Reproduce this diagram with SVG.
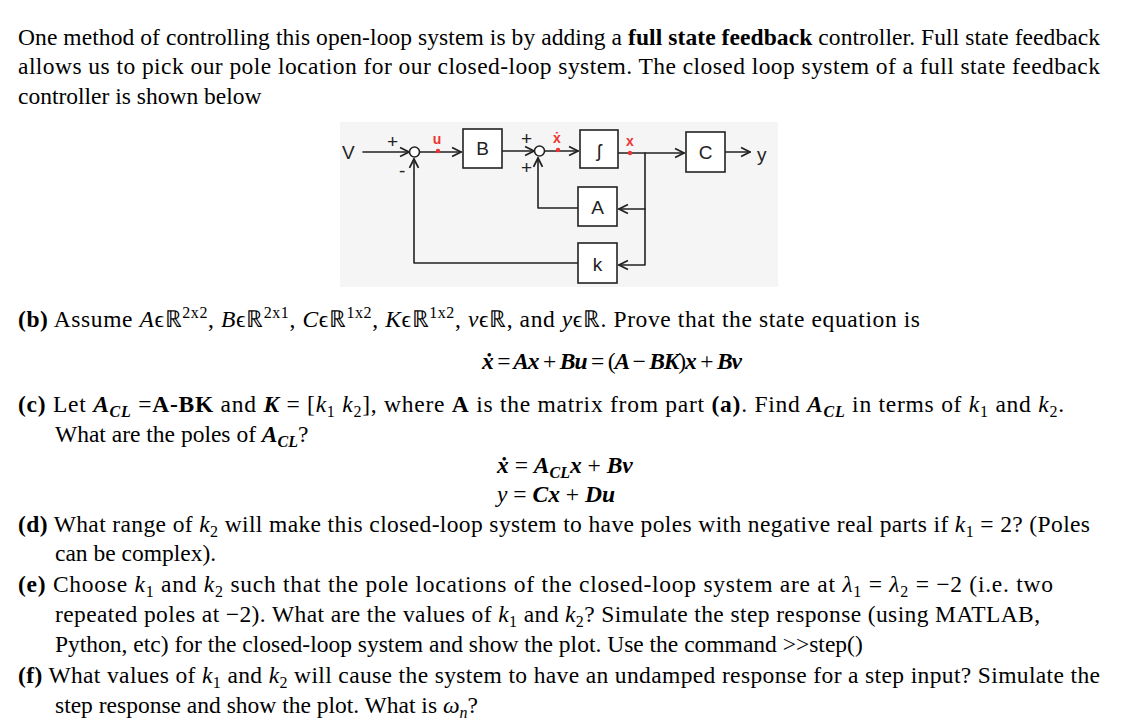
<svg xmlns="http://www.w3.org/2000/svg" width="1121" height="727" viewBox="0 0 1121 727">
<defs>
<style>
.t{font-family:"Liberation Serif","Times New Roman",serif;font-size:23.5px;fill:#000}
.i{font-style:italic}
.b{font-weight:bold}
.s{font-size:16px}
.ln{fill:none;stroke:#222;stroke-width:1.6;stroke-linecap:round;stroke-linejoin:round}
.bx{fill:#fff;stroke:#222;stroke-width:1.6}
.h{font-family:"Liberation Sans",Arial,sans-serif;font-size:19px;fill:#222}
.r{font-family:"Liberation Sans",Arial,sans-serif;font-size:14px;fill:#e33;font-weight:bold}
.dot{fill:#e33}
</style>
<marker id="a" viewBox="0 0 10 10" refX="9" refY="5" markerWidth="7" markerHeight="7" orient="auto"><path d="M1 1L9 5L1 9" fill="none" stroke="#222" stroke-width="1.6"/></marker>
</defs>
<rect width="1121" height="727" fill="#fff"/>
<g id="text">
<text class="t" x="18" y="45" textLength="1082" lengthAdjust="spacing">One method of controlling this open-loop system is by adding a <tspan class="b">full state feedback</tspan> controller. Full state feedback</text>
<text class="t" x="18" y="74" textLength="1082" lengthAdjust="spacing">allows us to pick our pole location for our closed-loop system. The closed loop system of a full state feedback</text>
<text class="t" x="18" y="104">controller is shown below</text>
<text class="t" x="18" y="327" textLength="902" lengthAdjust="spacing"><tspan class="b">(b)</tspan> Assume <tspan class="i">A</tspan>ϵℝ<tspan class="s" dy="-9">2x2</tspan><tspan dy="9">, </tspan><tspan class="i">B</tspan>ϵℝ<tspan class="s" dy="-9">2x1</tspan><tspan dy="9">, </tspan><tspan class="i">C</tspan>ϵℝ<tspan class="s" dy="-9">1x2</tspan><tspan dy="9">, </tspan><tspan class="i">K</tspan>ϵℝ<tspan class="s" dy="-9">1x2</tspan><tspan dy="9">, </tspan><tspan class="i">v</tspan>ϵℝ, and <tspan class="i">y</tspan>ϵℝ. Prove that the state equation is</text>
<text class="t b i" x="482" y="369" textLength="260" lengthAdjust="spacing">ẋ <tspan font-style="normal" font-weight="normal">=</tspan> Ax <tspan font-style="normal" font-weight="normal">+</tspan> Bu <tspan font-style="normal" font-weight="normal">= (</tspan>A <tspan font-style="normal" font-weight="normal">−</tspan> BK<tspan font-style="normal" font-weight="normal">)</tspan>x <tspan font-style="normal" font-weight="normal">+</tspan> Bv</text>
<text class="t" x="18" y="412" textLength="1046" lengthAdjust="spacing"><tspan class="b">(c)</tspan> Let <tspan class="b i">A</tspan><tspan class="b i s" dy="5">CL</tspan><tspan dy="-5"> =</tspan><tspan class="b">A-BK</tspan> and <tspan class="b i">K</tspan> = [<tspan class="i">k</tspan><tspan class="s" dy="5">1</tspan><tspan dy="-5">    </tspan><tspan class="i">k</tspan><tspan class="s" dy="5">2</tspan><tspan dy="-5">], where </tspan><tspan class="b">A</tspan> is the matrix from part <tspan class="b">(a)</tspan>. Find <tspan class="b i">A</tspan><tspan class="b i s" dy="5">CL</tspan><tspan dy="-5"> in terms of </tspan><tspan class="i">k</tspan><tspan class="s" dy="5">1</tspan><tspan dy="-5"> and </tspan><tspan class="i">k</tspan><tspan class="s" dy="5">2</tspan><tspan dy="-5">.</tspan></text>
<text class="t" x="55" y="442">What are the poles of <tspan class="b i">A</tspan><tspan class="b i s" dy="5">CL</tspan><tspan dy="-5">?</tspan></text>
<text class="t" x="497" y="473"><tspan class="b i">ẋ</tspan> = <tspan class="b i">A</tspan><tspan class="b i s" dy="5">CL</tspan><tspan class="b i" dy="-5">x</tspan> + <tspan class="b i">Bv</tspan></text>
<text class="t" x="497" y="502"><tspan class="i">y</tspan> = <tspan class="b i">Cx</tspan> + <tspan class="b i">Du</tspan></text>
<text class="t" x="18" y="532" textLength="1072" lengthAdjust="spacing"><tspan class="b">(d)</tspan> What range of <tspan class="i">k</tspan><tspan class="s" dy="5">2</tspan><tspan dy="-5"> will make this closed-loop system to have poles with negative real parts if </tspan><tspan class="i">k</tspan><tspan class="s" dy="5">1</tspan><tspan dy="-5"> = 2? (Poles</tspan></text>
<text class="t" x="55" y="561">can be complex).</text>
<text class="t" x="18" y="592" textLength="1035" lengthAdjust="spacing"><tspan class="b">(e)</tspan> Choose <tspan class="i">k</tspan><tspan class="s" dy="5">1</tspan><tspan dy="-5"> and </tspan><tspan class="i">k</tspan><tspan class="s" dy="5">2</tspan><tspan dy="-5"> such that the pole locations of the closed-loop system are  at </tspan><tspan class="i">λ</tspan><tspan class="s" dy="5">1</tspan><tspan dy="-5"> = </tspan><tspan class="i">λ</tspan><tspan class="s" dy="5">2</tspan><tspan dy="-5"> = −2 (i.e. two</tspan></text>
<text class="t" x="55" y="622" textLength="985" lengthAdjust="spacing">repeated poles at −2). What are the values of <tspan class="i">k</tspan><tspan class="s" dy="5">1</tspan><tspan dy="-5"> and </tspan><tspan class="i">k</tspan><tspan class="s" dy="5">2</tspan><tspan dy="-5">? Simulate the step response (using MATLAB,</tspan></text>
<text class="t" x="55" y="652">Python, etc) for the closed-loop system and show the plot. Use the command &gt;&gt;step()</text>
<text class="t" x="18" y="683" textLength="1082" lengthAdjust="spacing"><tspan class="b">(f)</tspan> What values of <tspan class="i">k</tspan><tspan class="s" dy="5">1</tspan><tspan dy="-5"> and </tspan><tspan class="i">k</tspan><tspan class="s" dy="5">2</tspan><tspan dy="-5"> will cause the system to have an undamped response for a step input? Simulate the</tspan></text>
<text class="t" x="55" y="713">step response and show the plot. What is <tspan class="i">ω</tspan><tspan class="i s" dy="5">n</tspan><tspan dy="-5">?</tspan></text>
</g>
<rect x="340" y="122" width="438" height="165" fill="#f5f5f5"/>
<g id="connectors">
<path class="ln" d="M363 152H409" marker-end="url(#a)"/>
<path class="ln" d="M420 152H461" marker-end="url(#a)"/>
<path class="ln" d="M502 151H534" marker-end="url(#a)"/>
<path class="ln" d="M545 151H578" marker-end="url(#a)"/>
<path class="ln" d="M618 153H684" marker-end="url(#a)"/>
<path class="ln" d="M725 152H750" marker-end="url(#a)"/>
<path class="ln" d="M645 153V265H619" marker-end="url(#a)"/>
<path class="ln" d="M645 209H619" marker-end="url(#a)"/>
<path class="ln" d="M578 208H538V158" marker-end="url(#a)"/>
<path class="ln" d="M578 263H414V159" marker-end="url(#a)"/>
</g>
<g id="sum1"><circle class="bx" cx="414.5" cy="152" r="5"/><text class="h" x="387" y="148" font-size="15">+</text><text class="h" x="399" y="177" font-size="15">-</text></g>
<g id="sum2"><circle class="bx" cx="539.5" cy="151" r="5"/><text class="h" x="521" y="145" font-size="15">+</text><text class="h" x="521" y="174" font-size="15">+</text></g>
<g id="B"><rect class="bx" x="463" y="129" width="39" height="39"/><text class="h" x="482.5" y="155" text-anchor="middle">B</text></g>
<g id="S"><rect class="bx" x="580" y="130" width="38" height="38"/><text class="h" x="599" y="157" text-anchor="middle">ʃ</text></g>
<g id="C"><rect class="bx" x="686" y="132" width="39" height="40"/><text class="h" x="705.5" y="159" text-anchor="middle">C</text></g>
<g id="A"><rect class="bx" x="578" y="187" width="39" height="39"/><text class="h" x="597.5" y="214" text-anchor="middle">A</text></g>
<g id="K"><rect class="bx" x="578" y="243" width="39" height="40"/><text class="h" x="597.5" y="271" text-anchor="middle">k</text></g>
<g id="labels">
<text class="h" x="342" y="159" font-size="20">V</text>
<text class="h" x="757" y="161" font-size="20">y</text>
<circle class="dot" cx="438" cy="151" r="2.2"/><text class="r" x="437" y="144" text-anchor="middle">u</text>
<circle class="dot" cx="558" cy="150" r="2.2"/><text class="r" x="557" y="143" text-anchor="middle">ẋ</text>
<circle class="dot" cx="630" cy="153" r="2.2"/><text class="r" x="630" y="146" text-anchor="middle">x</text>
</g>
</svg>
